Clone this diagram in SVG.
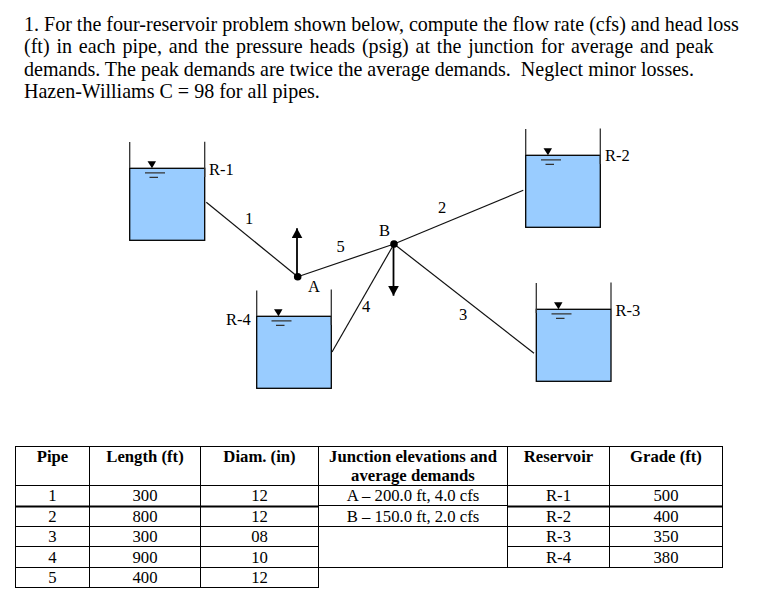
<svg xmlns="http://www.w3.org/2000/svg" width="761" height="609" viewBox="0 0 761 609">
<defs>
<marker id="head" markerUnits="userSpaceOnUse" markerWidth="11" markerHeight="11" refX="10" refY="5.500" orient="auto"><path d="M0,0L10,5.500L0,11Z" fill="#000"/></marker>
<g id="wl"><path d="M-4.500,-7L4,-7L0,0Z" fill="#000"/><path d="M-7,4.500H13M-2.500,9H6" stroke="#333" stroke-width="1.200" fill="none"/></g>
</defs>
<style>
text{font-family:"Liberation Serif","Times New Roman",serif;fill:#000}
.p{font-size:20.050px;white-space:pre}
.l{font-size:16.500px}
.t{font-size:16.700px;text-anchor:middle}
.b{font-weight:bold}
.water{fill:#99ccff;stroke:#000;stroke-width:1.300}
.wall{stroke:#333;stroke-width:1.300;fill:none}
.pipe{stroke:#111;stroke-width:1.200;fill:none}
.flow{stroke:#000;stroke-width:1.800;fill:none;marker-end:url(#head)}
.tb{stroke:#000;stroke-width:1;fill:none}
</style>
<rect width="761" height="609" fill="#fff"/>
<g id="problem">
<text class="p" x="24" y="31">1. For the four-reservoir problem shown below, compute the flow rate (cfs) and head loss</text>
<text class="p" x="24" y="53" word-spacing="1.850">(ft) in each pipe, and the pressure heads (psig) at the junction for average and peak</text>
<text class="p" x="24" y="76">demands. The peak demands are twice the average demands.  Neglect minor losses.</text>
<text class="p" x="24" y="98">Hazen-Williams C = 98 for all pipes.</text>
</g>
<g id="connectors">
<path class="pipe" d="M206.300,202.300L297.700,276.700"/>
<path class="pipe" d="M297.700,276.700L394,244"/>
<path class="pipe" d="M332,352L394,244"/>
<path class="pipe" d="M394,244L523.300,190.300"/>
<path class="pipe" d="M394,244L534,353.300"/>
<path class="flow" d="M297,276V228.300"/>
<path class="flow" d="M393.500,244V295.700"/>
</g>
<g id="pipe-labels" class="l">
<text x="245" y="224">1</text><text x="438" y="213">2</text><text x="459" y="320">3</text><text x="362" y="312">4</text><text x="336.500" y="252">5</text>
</g>
<g id="junction-A"><circle cx="297.700" cy="276.700" r="3.800"/><text class="l" x="308" y="292">A</text></g>
<g id="junction-B"><circle cx="394" cy="244" r="3.800"/><text class="l" x="379" y="236">B</text></g>
<g id="R-1"><rect class="water" x="129.700" y="168.300" width="75" height="72"/><path class="wall" d="M129.700,142V168M204.700,141.700V177"/><use href="#wl" x="152" y="168.300"/><text class="l" x="209" y="175">R-1</text></g>
<g id="R-2"><rect class="water" x="525.700" y="155.300" width="74.600" height="72"/><path class="wall" d="M525.700,129V155M600.300,128.500V164"/><use href="#wl" x="548" y="155.300"/><text class="l" x="605" y="161">R-2</text></g>
<g id="R-3"><rect class="water" x="536.300" y="309.300" width="74.700" height="72"/><path class="wall" d="M536.300,283V313M611,282.500V309"/><use href="#wl" x="558.500" y="309.300"/><text class="l" x="615.500" y="316">R-3</text></g>
<g id="R-4"><rect class="water" x="256.700" y="316.300" width="74.600" height="72"/><path class="wall" d="M256.700,290.500V316M331.300,289.500V325"/><use href="#wl" x="278.500" y="316.300"/><text class="l" x="226" y="325">R-4</text></g>
<g id="table">
<path class="tb" d="M15.500,446.500H722.500M15.500,485.500H722.500M15.500,526.500H722.500M15.500,546.500H318.500M507.500,546.500H722.500M15.500,567.500H722.500M15.500,587.500H318.500"/>
<path class="tb" d="M15.500,446V588M89.500,446V588M200.500,446V588M318.500,446V588M507.500,446V568M609.500,446V568M722.500,446V568"/>
<path class="tb" d="M318.500,505.500H507.500"/>
<path d="M15,506.500H319M507,506.500H723" stroke="#000" stroke-width="2"/>
<g class="t b">
<text x="52.500" y="462">Pipe</text><text x="145" y="462">Length (ft)</text><text x="259.500" y="462">Diam. (in)</text>
<text x="413" y="462">Junction elevations and</text><text x="413" y="481">average demands</text>
<text x="558.500" y="462">Reservoir</text><text x="666" y="462">Grade (ft)</text>
</g>
<g class="t">
<text x="52.500" y="501">1</text><text x="145" y="501">300</text><text x="259.500" y="501">12</text><text x="413" y="501">A – 200.0 ft, 4.0 cfs</text><text x="558.500" y="501">R-1</text><text x="666" y="501">500</text>
<text x="52.500" y="522">2</text><text x="145" y="522">800</text><text x="259.500" y="522">12</text><text x="413" y="522">B – 150.0 ft, 2.0 cfs</text><text x="558.500" y="522">R-2</text><text x="666" y="522">400</text>
<text x="52.500" y="542">3</text><text x="145" y="542">300</text><text x="259.500" y="542">08</text><text x="558.500" y="542">R-3</text><text x="666" y="542">350</text>
<text x="52.500" y="563">4</text><text x="145" y="563">900</text><text x="259.500" y="563">10</text><text x="558.500" y="563">R-4</text><text x="666" y="563">380</text>
<text x="52.500" y="583">5</text><text x="145" y="583">400</text><text x="259.500" y="583">12</text>
</g>
</g>
</svg>
